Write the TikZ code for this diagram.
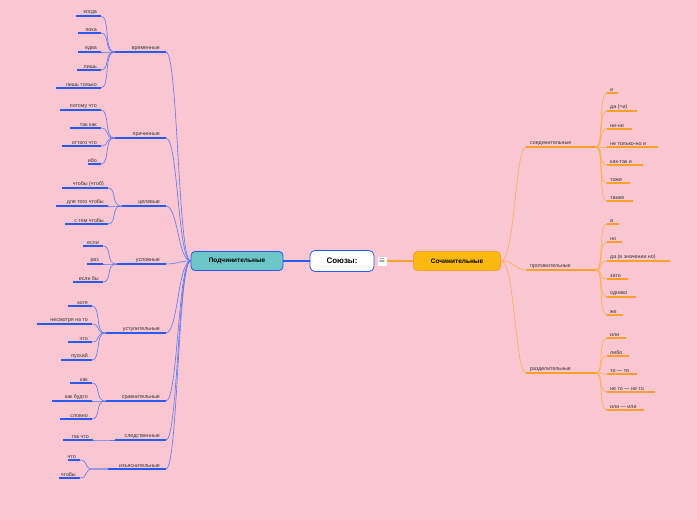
\documentclass[tikz,border=0pt]{standalone}
\usepackage{fontspec}
\setmainfont{Liberation Sans}
\definecolor{bbl}{RGB}{40,90,240}
\definecolor{bbll}{RGB}{90,120,240}
\definecolor{oor}{RGB}{250,160,40}
\definecolor{oorl}{RGB}{250,175,70}
\begin{document}
\begin{tikzpicture}[x=1pt,y=-1pt,
  bl/.style={draw=bbll,line width=0.6pt},
  blt/.style={draw=bbl,line width=1.3pt},
  orl/.style={draw=oorl,line width=0.6pt},
  ort/.style={draw=oor,line width=1.3pt},
  lbl/.style={font=\fontsize{5.3}{6}\selectfont,inner sep=1pt,text=black!80}]
\fill[fill={rgb,255:red,249;green,198;blue,209}] (0,0) rectangle (697,520);
\useasboundingbox (0,0) rectangle (697,520);
\node[draw=bbl,line width=0.8pt,fill={rgb,255:red,108;green,197;blue,198},rounded corners=4pt,minimum width=92pt,minimum height=19pt,font=\fontsize{6.5}{7}\bfseries\selectfont] (pod) at (237,261) {Подчинительные};
\node[draw=bbl,line width=0.8pt,fill=white,rounded corners=5pt,minimum width=64pt,minimum height=21pt,font=\fontsize{8}{9}\bfseries\selectfont] (root) at (342,261) {Союзы:};
\node[draw=oor,line width=0.8pt,fill={rgb,255:red,251;green,184;blue,17},rounded corners=4pt,minimum width=87pt,minimum height=19pt,font=\fontsize{6.5}{7}\bfseries\selectfont] (soch) at (457,261) {Сочинительные};
\node[fill=white,font=\fontsize{7}{8}\selectfont,inner sep=0.5pt,minimum size=9pt] (ic) at (382,261) {$\equiv$};
\draw[blt] (root.west) -- (pod.east);
\draw[ort] (ic.east) -- (soch.west);
\newcommand\lgrp[6]{%
  \coordinate (g#1a) at (#3,#2); \coordinate (g#1b) at (166,#2);
  \draw[blt] (g#1a) -- (g#1b);
  \node[lbl,anchor=south east] at (161,#2) {#4};
  \draw[bl] (pod.west) .. controls (178,261) and (178,#2) .. (g#1b);
  \foreach \yy/\xx/\tt in {#6}{%
    \draw[blt] (\xx,\yy) -- (#5,\yy);
    \node[lbl,anchor=south east] at (#5-3,\yy) {\tt};
    \draw[bl] (#5,\yy) .. controls (#5+9,\yy) and (#5+3,#2) .. (#5+13,#2) -- (g#1a);
  }}
\lgrp{a}{52}{115}{временные}{101}{16/76/когда,33/78/пока,52/78/едва,70/77/лишь,88/56/лишь только}
\lgrp{b}{138}{115}{причинные}{101}{110/60/потому что,128/70/так как,146/62/оттого что,164/88/ибо}
\lgrp{c}{206}{122}{целевые}{108}{188/62/чтобы (чтоб),206/56/для того чтобы,224/65/с тем чтобы}
\lgrp{d}{264}{117}{условные}{103}{246/83/если,264/87/раз,282/73/если бы}
\lgrp{e}{333}{106}{уступительные}{92}{306/68/хотя,324/37/несмотря на то,342/68/что,360/61/пускай}
\lgrp{f}{401}{106}{сравнительные}{92}{383/70/как,401/52/как будто,419/60/словно}
\lgrp{g}{440}{115}{следственные}{93}{440/63/так что}
\lgrp{h}{469}{108}{изъяснительные}{80}{460/68/что,478/59/чтобы}
\newcommand\rgrp[5]{%
  \coordinate (r#1a) at (526,#2); \coordinate (r#1b) at (596,#2);
  \draw[ort] (r#1a) -- (r#1b);
  \node[lbl,anchor=south west] at (529,#2) {#3};
  \draw[orl] (soch.east) .. controls (515,261) and (515,#2) .. (r#1a);
  \foreach \yy/\xx/\tt in {#5}{%
    \draw[ort] (607,\yy) -- (\xx,\yy);
    \node[lbl,anchor=south west] at (609,\yy) {\tt};
    \draw[orl] (r#1b) .. controls (604,#2) and (598,\yy) .. (607,\yy);
  }}
\rgrp{a}{147}{соединительные}{}{93/618/и,111/637/да (=и),129/632/ни-ни,147/658/не только-но и,165/643/как-так и,183/630/тоже,201/633/также}
\rgrp{b}{270}{противительные}{}{224/619/а,242/622/но,261/670/да (в значении но),279/628/зато,297/636/однако,315/623/же}
\rgrp{c}{373}{разделительные}{}{338/626/или,356/629/либо,374/637/то — то,392/655/не то — не то,410/644/или — или}
\end{tikzpicture}
\end{document}
